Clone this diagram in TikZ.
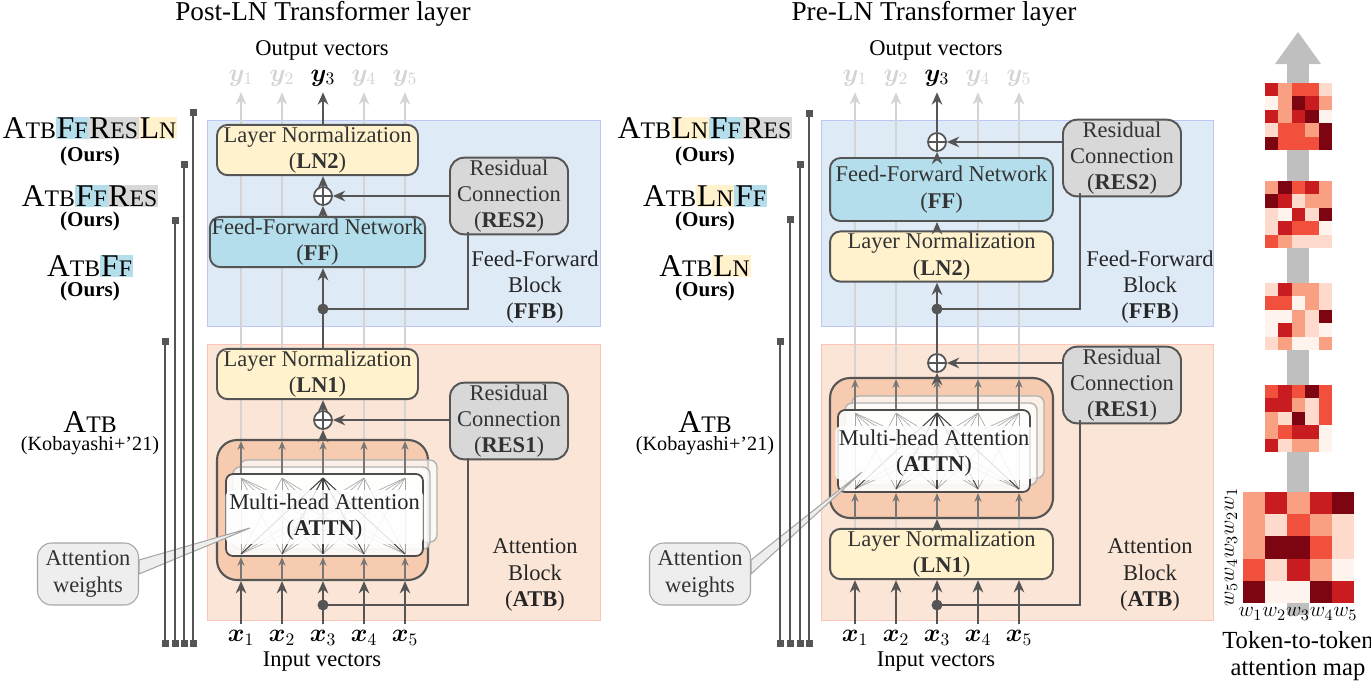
\documentclass[tikz,border=0pt]{standalone}
\usepackage{fontspec}
\usepackage{amsmath,bm}
\setmainfont{Liberation Serif}
\usetikzlibrary{arrows.meta}

\definecolor{fbg}{RGB}{222,234,246}
\definecolor{abg}{RGB}{251,229,214}
\definecolor{lnc}{RGB}{255,242,204}
\definecolor{ffc}{RGB}{180,222,236}
\definecolor{resc}{RGB}{216,216,216}
\definecolor{dk}{RGB}{85,85,85}
\definecolor{lt}{RGB}{212,212,212}
\definecolor{atc}{RGB}{246,203,175}
\definecolor{cal}{RGB}{238,238,238}
\definecolor{hm0}{RGB}{255,243,237}
\definecolor{hm1}{RGB}{253,218,203}
\definecolor{hm2}{RGB}{250,160,130}
\definecolor{hm3}{RGB}{240,80,60}
\definecolor{hm4}{RGB}{200,28,32}
\definecolor{hm5}{RGB}{125,5,18}

\newcommand\fs{\fontsize{12.8}{15}\selectfont}
\newcommand\bigsc[2]{{\fontsize{18}{19}\selectfont #1}{\fontsize{13.5}{14}\selectfont #2}}
\newcommand\hlb[2]{{\setlength\fboxsep{0.5pt}\colorbox{#1}{#2}}}
\newcommand\heat[4]{%
  \foreach \v [count=\i from 0] in {#4}{%
    \pgfmathtruncatemacro\cc{mod(\i,5)}%
    \pgfmathtruncatemacro\rr{div(\i,5)}%
    \fill[hm\v] ({#1+\cc*#3},{#2+\rr*#3}) rectangle ++(#3,#3);}}

\tikzset{
  box/.style={draw=dk, line width=1.1pt, rounded corners=6pt, align=center, font=\fs, text=black!80, inner sep=1pt},
  ln/.style={box, fill=lnc, minimum height=0.96cm},
  ff/.style={box, fill=ffc},
  res/.style={box, fill=resc, minimum width=2.36cm, minimum height=1.42cm, rounded corners=8pt},
  att/.style={draw=dk, line width=1.2pt, fill=atc, rounded corners=0.4cm},
  mh/.style={draw=dk!90!black, line width=1pt, fill=white, fill opacity=0.85, text opacity=1, rounded corners=4pt, align=center, font=\fs},
  back/.style={draw=gray!60, line width=0.8pt, fill=white, fill opacity=0.7, rounded corners=4pt},
  opl/.style={circle, draw=dk, line width=1pt, fill=white, minimum size=0.36cm, inner sep=0,
    path picture={\draw[dk, line width=0.8pt] (path picture bounding box.north) -- (path picture bounding box.south)
      (path picture bounding box.west) -- (path picture bounding box.east);}},
  dkl/.style={draw=dk, line width=1.6pt},
  ltl/.style={draw=lt, line width=1.6pt},
  tip/.style={-{Stealth[length=7pt,width=6pt]}},
  dot/.style={circle, fill=dk, inner sep=0, minimum size=0.22cm},
  bg/.style={line width=0.5pt},
  txt/.style={font=\fs, align=center, text=black!85},
  vec/.style={font=\fontsize{14.5}{16}\selectfont},
  ours/.style={font=\fontsize{12}{13}\selectfont\bfseries},
  sidel/.style={draw=dk, line width=1pt},
  fan/.style={draw=gray!70, line width=0.35pt},
  fand/.style={draw=dk!80!black, line width=0.6pt},
  inl/.style={draw=dk!80, line width=0.9pt, -{Stealth[length=5pt,width=4pt]}},
}

\begin{document}
\begin{tikzpicture}[x=0.02cm, y=-0.02cm]
\useasboundingbox (0,0) rectangle (1371,681);

% ---------------- titles and block backgrounds
\node[font=\fontsize{15.5}{18}\selectfont] at (323,14) {Post-LN Transformer layer};
\node[font=\fontsize{15.5}{18}\selectfont] at (934,14) {Pre-LN Transformer layer};
\fill[fbg, draw=fbg!85!blue, bg] (207,120) rectangle (600,326);
\fill[abg, draw=abg!85!red, bg] (207,344) rectangle (600,620);
\fill[fbg, draw=fbg!85!blue, bg] (821,120) rectangle (1213,326);
\fill[abg, draw=abg!85!red, bg] (821,344) rectangle (1213,620);

\node[txt, text=black] at (322,50) {Output vectors};
\node[txt, text=black] at (936,50) {Output vectors};
\node[txt, text=black] at (322,662) {Input vectors};
\node[txt, text=black] at (936,662) {Input vectors};

% ---------------- vector labels
\foreach \i/\x/\c in {1/241/lt,2/282/lt,3/323/black,4/364/lt,5/405/lt}{
  \node[vec, text=\c] (ya\i) at (\x,78) {$\bm{y}_{\i}$};
  \node[vec] (xa\i) at (\x,638) {$\bm{x}_{\i}$};
}
\foreach \i/\x/\c in {1/855/lt,2/896/lt,3/937/black,4/978/lt,5/1019/lt}{
  \node[vec, text=\c] (yb\i) at (\x,78) {$\bm{y}_{\i}$};
  \node[vec] (xb\i) at (\x,638) {$\bm{x}_{\i}$};
}

% ---------------- light paths
\foreach \i/\x in {1/241,2/282,4/364,5/405}{
  \draw[ltl, tip] (\x,440) -- (ya\i.south);}
\foreach \i/\x in {1/855,2/896,4/978,5/1019}{
  \draw[ltl, tip] (\x,530) -- (yb\i.south);}

% ================= Post-LN layer
\node[ln, minimum width=4.02cm] (LN2a) at (317.5,150) {Layer Normalization\\(\textbf{LN2})};
\node[opl] (OP2a) at (323,196) {};
\node[ff, minimum width=4.02cm, minimum height=0.96cm] (FFa) at (317.5,242) {Feed-Forward Network\\(\textbf{FF})};
\node[res] (R2a) at (509,196) {Residual\\Connection\\(\textbf{RES2})};
\node[ln, minimum width=4.02cm] (LN1a) at (317.5,374) {Layer Normalization\\(\textbf{LN1})};
\node[opl] (OP1a) at (323,420) {};
\node[res] (R1a) at (509,421) {Residual\\Connection\\(\textbf{RES1})};
\node[att, minimum width=4.22cm, minimum height=2.8cm] (ATa) at (322.5,510) {};
\node[back, minimum width=3.94cm, minimum height=1.64cm] at (338.5,501) {};
\node[back, minimum width=3.94cm, minimum height=1.64cm] at (331.5,508) {};
\foreach \x in {241,282,323,364,405}{
  \draw[inl] (\x,580) -- (\x,557);
  \draw[inl] (\x,474) -- (\x,441);}
\node[mh, minimum width=3.94cm, minimum height=1.64cm] (MHa) at (324.5,515) {};
\foreach \a in {241,282,323,364,405}{\foreach \b in {241,282,364,405}{
  \draw[fan] (\a,554) -- (\b,478);}
  \draw[fand] (\a,554) -- (323,478);}
\node[txt, fill=white, fill opacity=0.85, text opacity=1, rounded corners=3pt, inner sep=2pt] at (324.5,517) {Multi-head Attention\\(\textbf{ATTN})};
\node[txt] at (535,287) {Feed-Forward\\Block\\(\textbf{FFB})};
\node[txt] at (535,575) {Attention\\Block\\(\textbf{ATB})};
\coordinate (D2a) at (323,309);
\coordinate (C2a) at (468,232);
\coordinate (D1a) at (323,605);
\coordinate (C1a) at (468,458);

\draw[dkl, tip] (OP1a |- ATa.north) -- (OP1a.south);
\draw[dkl, tip] (OP1a.north) -- (OP1a |- LN1a.south);
\draw[dkl, tip] (OP1a |- LN1a.north) -- (OP1a |- FFa.south);
\draw[dkl, tip] (OP2a |- FFa.north) -- (OP2a.south);
\draw[dkl, tip] (OP2a.north) -- (OP2a |- LN2a.south);
\draw[dkl, tip] (OP2a |- LN2a.north) -- (ya3.south);
\draw[dkl] (D2a) -| (C2a);
\draw[dkl, tip] (R2a.west |- OP2a) -- (OP2a.east);
\draw[dkl] (D1a) -| (C1a);
\draw[dkl, tip] (R1a.west |- OP1a) -- (OP1a.east);
\node[dot] at (D2a) {};
\node[dot] at (D1a) {};
\foreach \i in {1,...,5}{\draw[dkl, tip] (xa\i.north) -- (xa\i.north |- ATa.south);}

% ================= Pre-LN layer
\node[opl] (OP2b) at (937,142) {};
\node[res] (R2b) at (1122,158) {Residual\\Connection\\(\textbf{RES2})};
\node[ff, minimum width=4.46cm, minimum height=1.26cm] (FFb) at (941.5,189.5) {Feed-Forward Network\\(\textbf{FF})};
\node[ln, minimum width=4.46cm, minimum height=0.94cm] (LN2b) at (941.5,256.5) {Layer Normalization\\(\textbf{LN2})};
\node[opl] (OP1b) at (937,363) {};
\node[res] (R1b) at (1122,385) {Residual\\Connection\\(\textbf{RES1})};
\node[att, minimum width=4.46cm, minimum height=2.8cm] (ATb) at (941.5,448) {};
\node[back, minimum width=3.84cm, minimum height=1.64cm] at (948,437) {};
\node[back, minimum width=3.84cm, minimum height=1.64cm] at (941,444) {};
\foreach \x in {855,896,937,978,1019}{
  \draw[inl] (\x,518) -- (\x,493);
  \draw[inl] (\x,410) -- (\x,379);}
\node[mh, minimum width=3.84cm, minimum height=1.64cm] (MHb) at (934,451) {};
\foreach \a in {855,896,937,978,1019}{\foreach \b in {855,896,978,1019}{
  \draw[fan] (\a,489) -- (\b,413);}
  \draw[fand] (\a,489) -- (937,413);}
\node[txt, fill=white, fill opacity=0.85, text opacity=1, rounded corners=3pt, inner sep=2pt] at (934,453) {Multi-head Attention\\(\textbf{ATTN})};
\node[ln, minimum width=4.46cm] (LN1b) at (941.5,554) {Layer Normalization\\(\textbf{LN1})};
\node[txt] at (1150,287) {Feed-Forward\\Block\\(\textbf{FFB})};
\node[txt] at (1150,575) {Attention\\Block\\(\textbf{ATB})};
\coordinate (D2b) at (937,309);
\coordinate (C2b) at (1080,193);
\coordinate (D1b) at (937,605);
\coordinate (C1b) at (1080,420);

\draw[dkl, tip] (OP1b |- LN1b.north) -- (OP1b |- ATb.south);
\draw[dkl, tip] (OP1b |- ATb.north) -- (OP1b.south);
\draw[dkl, tip] (OP1b.north) -- (OP1b |- LN2b.south);
\draw[dkl, tip] (OP2b |- LN2b.north) -- (OP2b |- FFb.south);
\draw[dkl, tip] (OP2b |- FFb.north) -- (OP2b.south);
\draw[dkl, tip] (OP2b.north) -- (yb3.south);
\draw[dkl] (D2b) -| (C2b);
\draw[dkl, tip] (R2b.west |- OP2b) -- (OP2b.east);
\draw[dkl] (D1b) -| (C1b);
\draw[dkl, tip] (R1b.west |- OP1b) -- (OP1b.east);
\node[dot] at (D2b) {};
\node[dot] at (D1b) {};
\foreach \i in {1,...,5}{\draw[dkl, tip] (xb\i.north) -- (xb\i.north |- LN1b.south);}

% ---------------- callouts
\fill[cal, draw=gray!70, line width=0.6pt] (139,560) -- (250,528) -- (139,574) -- cycle;
\node[box, draw=gray!70, line width=0.6pt, fill=cal, rounded corners=8pt, minimum width=2.02cm, minimum height=1.24cm] (AWa) at (88,574) {Attention\\weights};
\fill[cal, draw=gray!70, line width=0.6pt] (751,560) -- (862,472) -- (751,574) -- cycle;
\node[box, draw=gray!70, line width=0.6pt, fill=cal, rounded corners=8pt, minimum width=2.02cm, minimum height=1.24cm] (AWb) at (700,574) {Attention\\weights};

% ---------------- side labels and bars
\node[inner sep=0] (La1) at (90,128) {\bigsc{A}{TB}\hlb{ffc}{\bigsc{F}{F}}\hlb{resc}{\bigsc{R}{ES}}\hlb{lnc}{\bigsc{L}{N}}};
\node[ours] at (90,156) {(Ours)};
\node[inner sep=0] (La2) at (90,196) {\bigsc{A}{TB}\hlb{ffc}{\bigsc{F}{F}}\hlb{resc}{\bigsc{R}{ES}}};
\node[ours] at (90,221) {(Ours)};
\node[inner sep=0] (La3) at (90,266) {\bigsc{A}{TB}\hlb{ffc}{\bigsc{F}{F}}};
\node[ours] at (90,291) {(Ours)};
\node[inner sep=0] (La4) at (90,422) {\bigsc{A}{TB}};
\node[font=\fontsize{11.5}{13}\selectfont] at (90,446) {(Kobayashi+'21)};

\node[inner sep=0] (Lb1) at (705,128) {\bigsc{A}{TB}\hlb{lnc}{\bigsc{L}{N}}\hlb{ffc}{\bigsc{F}{F}}\hlb{resc}{\bigsc{R}{ES}}};
\node[ours] at (705,156) {(Ours)};
\node[inner sep=0] (Lb2) at (705,196) {\bigsc{A}{TB}\hlb{lnc}{\bigsc{L}{N}}\hlb{ffc}{\bigsc{F}{F}}};
\node[ours] at (705,221) {(Ours)};
\node[inner sep=0] (Lb3) at (705,266) {\bigsc{A}{TB}\hlb{lnc}{\bigsc{L}{N}}};
\node[ours] at (705,291) {(Ours)};
\node[inner sep=0] (Lb4) at (705,422) {\bigsc{A}{TB}};
\node[font=\fontsize{11.5}{13}\selectfont] at (705,446) {(Kobayashi+'21)};

\foreach \x/\t in {193/112,184/164,175/220,165/341,809/113,800/164,790/219,780/341}{
  \draw[sidel] (\x,\t) -- (\x,643);
  \fill[dk] ({\x-3.5},{\t-3.5}) rectangle ++(7,7);
  \fill[dk] ({\x-3.5},{643-3.5}) rectangle ++(7,7);
}

% ---------------- token-to-token attention maps
\fill[gray!50] (1287,615) rectangle (1309,64);
\fill[gray!50] (1275,64) -- (1298,32) -- (1321,64) -- cycle;
\heat{1265}{83}{13.4}{4,2,3,3,1, 0,2,5,4,2, 4,2,4,5,0, 1,3,3,2,5, 5,3,3,3,5}
\heat{1265}{181}{13.4}{2,5,3,4,2, 5,4,1,2,2, 1,0,4,1,5, 1,4,3,3,0, 3,2,1,1,1}
\heat{1265}{283}{13.4}{1,4,2,2,1, 3,3,0,2,1, 0,0,2,1,5, 0,4,2,1,0, 1,2,0,0,2}
\heat{1265}{385}{13.4}{3,4,3,5,3, 4,4,2,1,3, 2,1,5,1,3, 2,3,4,4,0, 4,1,2,2,0}
\heat{1243}{492}{22.2}{2,4,2,4,5, 2,1,3,2,1, 2,5,5,3,1, 3,1,4,2,0, 5,0,0,5,4}
\node[rotate=90, font=\fontsize{13}{14}\selectfont] at (1231,547) {$w_5w_4w_3w_2w_1$};
\node[font=\fontsize{13}{14}\selectfont] at (1298,614) {$w_1w_2w_3w_4w_5$};
\node[font=\fontsize{14}{15.5}\selectfont, align=center] at (1298,656) {Token-to-token\\attention map};
\end{tikzpicture}
\end{document}
